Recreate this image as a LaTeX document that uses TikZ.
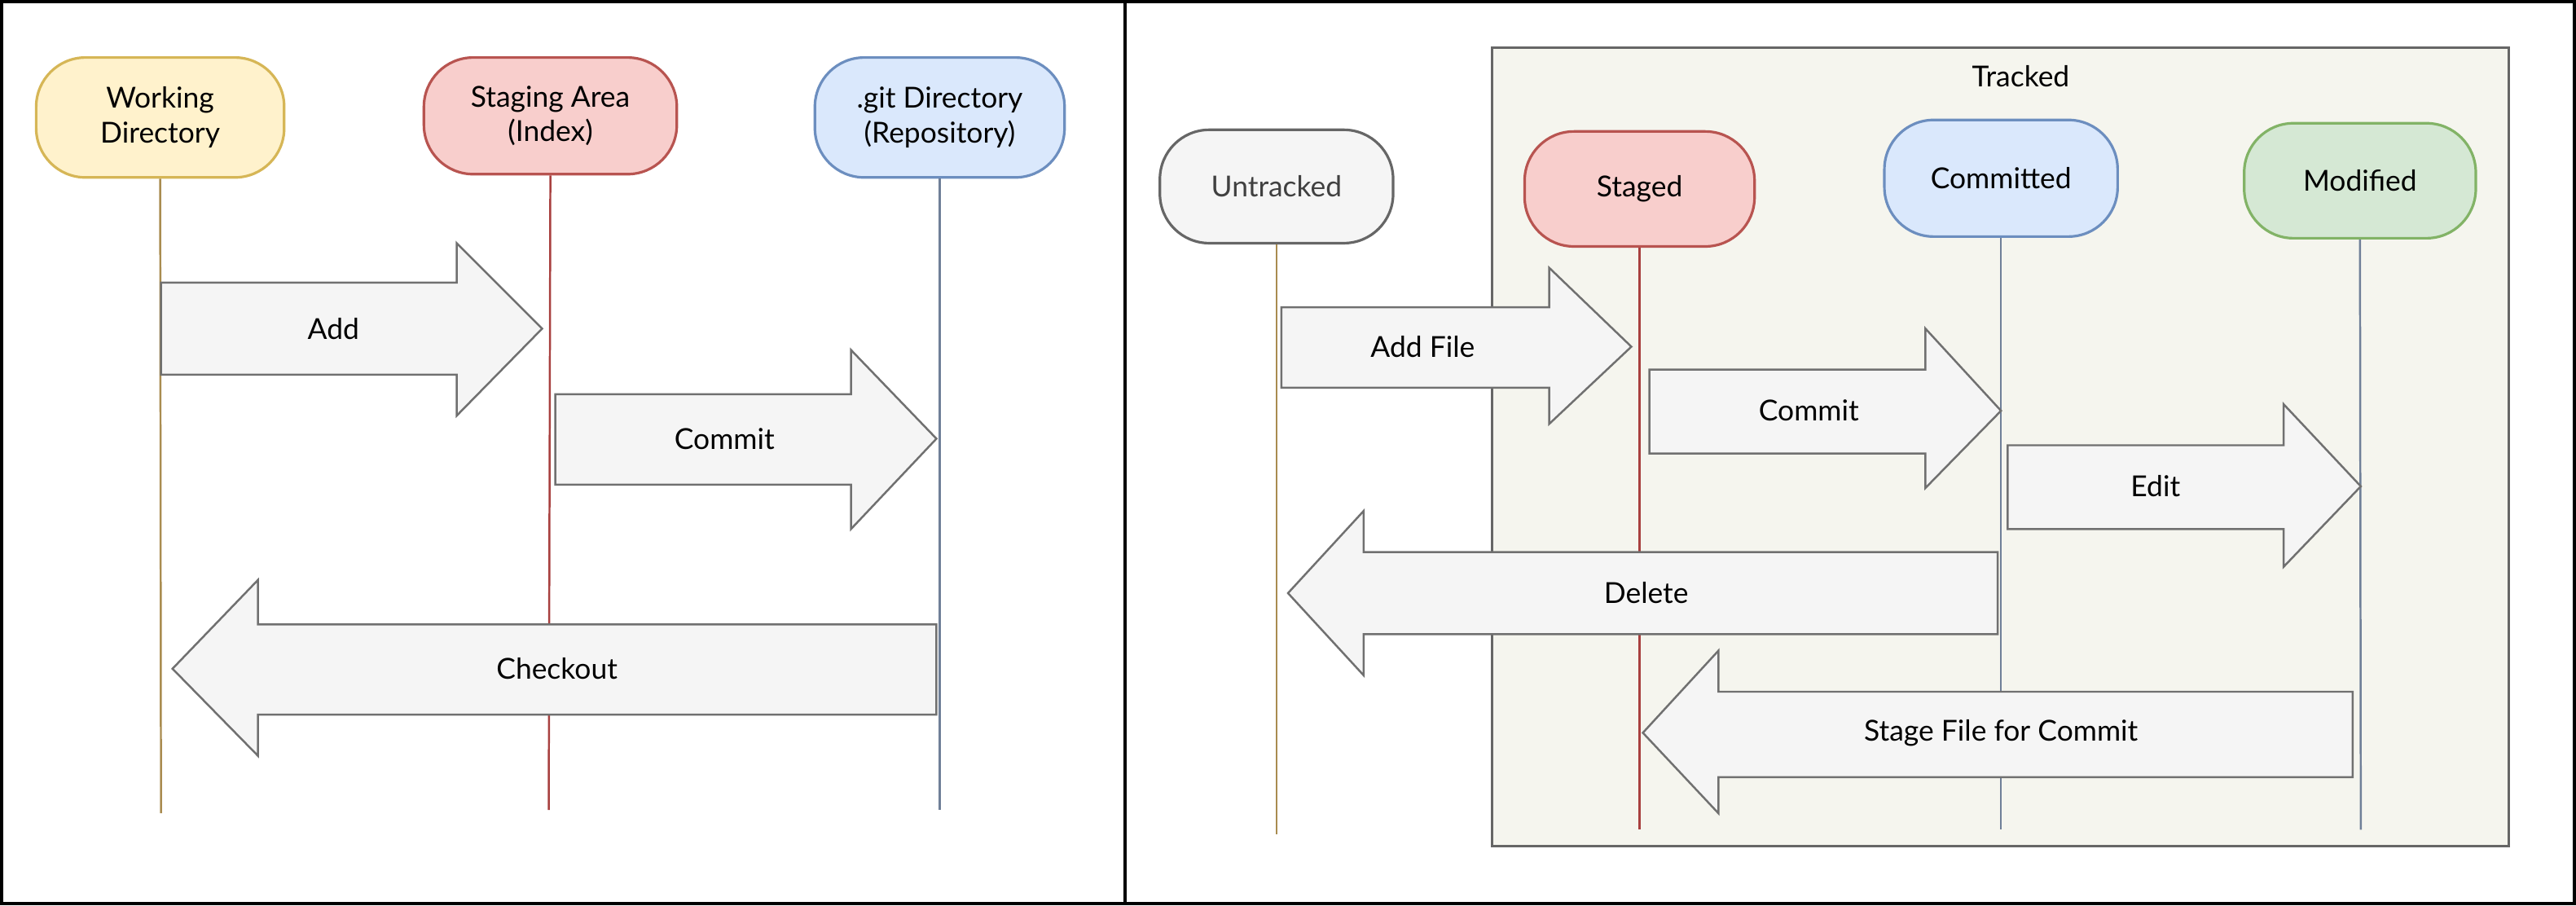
\documentclass[tikz,border=0pt]{standalone}
\usepackage{fontspec}
\setmainfont{Lato}
\begin{document}
\begin{tikzpicture}[x=0.02cm,y=-0.02cm,
  lane/.style={draw, line width=0.9pt, rounded corners=0.6cm, align=center, inner sep=2pt, font=\fontsize{10}{12}\selectfont},
  yel/.style={lane, fill=yellowfill, draw=yellowline},
  red/.style={lane, fill=redfill, draw=redline},
  blu/.style={lane, fill=bluefill, draw=blueline},
  grn/.style={lane, fill=greenfill, draw=greenline},
  gry/.style={lane, fill=grayfill, draw=grayline},
  life/.style={line width=0.7pt},
  bigarrow/.style={draw=arrowline, fill=arrowfill, line width=0.7pt, line join=miter},
  lbl/.style={font=\fontsize{10}{12}\selectfont, inner sep=1pt},
]
\definecolor{yellowfill}{HTML}{FFF2CC}
\definecolor{yellowline}{HTML}{D6B656}
\definecolor{redfill}{HTML}{F8CECC}
\definecolor{redline}{HTML}{B85450}
\definecolor{bluefill}{HTML}{DAE8FC}
\definecolor{blueline}{HTML}{6C8EBF}
\definecolor{greenfill}{HTML}{D5E8D4}
\definecolor{greenline}{HTML}{82B366}
\definecolor{grayfill}{HTML}{F5F5F5}
\definecolor{grayline}{HTML}{666666}
\definecolor{arrowfill}{HTML}{F5F5F5}
\definecolor{arrowline}{HTML}{707070}
\definecolor{trackfill}{HTML}{F5F5EE}
\definecolor{lifeyel}{HTML}{A98C50}
\definecolor{lifered}{HTML}{A8403F}
\definecolor{lifeblue}{HTML}{6F7F98}

\useasboundingbox (0,0) rectangle (1568,551);
\fill[white] (0,0) rectangle (1568,551);

% ---------- Tracked container ----------
\node[draw=grayline, fill=trackfill, line width=0.8pt, minimum width=12.38cm, minimum height=9.72cm, inner sep=0pt] (tracked) at (1217.5,272) {};
\node[lbl, anchor=north] (trackedlbl) at (1230,38) {Tracked};

% ---------- Left panel boxes ----------
\node[yel, minimum width=3.02cm, minimum height=1.46cm] (wd) at (97.5,71.5) {Working\\Directory};
\node[red, minimum width=3.08cm, minimum height=1.42cm] (sa) at (335,70.5) {Staging Area\\(Index)};
\node[blu, minimum width=3.04cm, minimum height=1.46cm] (git) at (572,71.5) {.git Directory\\(Repository)};

\coordinate (wdEnd) at (98,495);
\coordinate (saEnd) at (334,493);
\coordinate (gitEnd) at (572,493);
\draw[life, draw=lifeyel] (wd.south) -- (wdEnd);
\draw[life, draw=lifered] (sa.south) -- (saEnd);
\draw[life, draw=lifeblue] (git.south) -- (gitEnd);

% Add
\draw[bigarrow] (98,172) -- (278,172) -- (278,148) -- (330,200) -- (278,253) -- (278,228) -- (98,228) -- cycle;
\node[lbl] (addlbl) at (203,200) {Add};
% Commit
\draw[bigarrow] (338,240) -- (518,240) -- (518,213) -- (570,267) -- (518,322) -- (518,295) -- (338,295) -- cycle;
\node[lbl] (commitlbl) at (441,267) {Commit};
% Checkout
\draw[bigarrow] (570,380) -- (157,380) -- (157,353) -- (105,407) -- (157,460) -- (157,435) -- (570,435) -- cycle;
\node[lbl] (checkoutlbl) at (339,407) {Checkout};

% ---------- Right panel boxes ----------
\node[gry, minimum width=2.84cm, minimum height=1.38cm, text=black!75] (untr) at (777,113.5) {Untracked};
\node[red, minimum width=2.80cm, minimum height=1.40cm] (staged) at (998,115) {Staged};
\node[blu, minimum width=2.84cm, minimum height=1.42cm] (comm) at (1218,108.5) {Committed};
\node[grn, minimum width=2.82cm, minimum height=1.40cm] (mod) at (1436.5,110) {Modified};

\coordinate (untrEnd) at (777,508);
\coordinate (stagedEnd) at (998,505);
\coordinate (commEnd) at (1218,505);
\coordinate (modEnd) at (1437,505);
\draw[life, draw=lifeyel] (untr.south) -- (untrEnd);
\draw[life, draw=lifered] (staged.south) -- (stagedEnd);
\draw[life, draw=lifeblue] (comm.south) -- (commEnd);
\draw[life, draw=lifeblue] (mod.south) -- (modEnd);

% Add File
\draw[bigarrow] (780,187) -- (943,187) -- (943,163) -- (993,211) -- (943,258) -- (943,236) -- (780,236) -- cycle;
\node[lbl] (addfilelbl) at (866,211) {Add File};
% Commit
\draw[bigarrow] (1004,225) -- (1172,225) -- (1172,200) -- (1218,250) -- (1172,297) -- (1172,276) -- (1004,276) -- cycle;
\node[lbl] (commit2lbl) at (1101,250) {Commit};
% Edit
\draw[bigarrow] (1222,271) -- (1390,271) -- (1390,246) -- (1437,296) -- (1390,345) -- (1390,322) -- (1222,322) -- cycle;
\node[lbl] (editlbl) at (1312,296) {Edit};
% Delete
\draw[bigarrow] (1216,336) -- (830,336) -- (830,311) -- (784,361) -- (830,411) -- (830,386) -- (1216,386) -- cycle;
\node[lbl] (deletelbl) at (1002,361) {Delete};
% Stage File for Commit
\draw[bigarrow] (1432,421) -- (1046,421) -- (1046,396) -- (1000,446) -- (1046,495) -- (1046,473) -- (1432,473) -- cycle;
\node[lbl] (stagelbl) at (1218,446) {Stage File for Commit};

% ---------- frame ----------
\draw[line width=1.1pt, black] (1,1) rectangle (1567,550);
\draw[line width=1.1pt, black] (685,0) -- (685,551);
\end{tikzpicture}
\end{document}
